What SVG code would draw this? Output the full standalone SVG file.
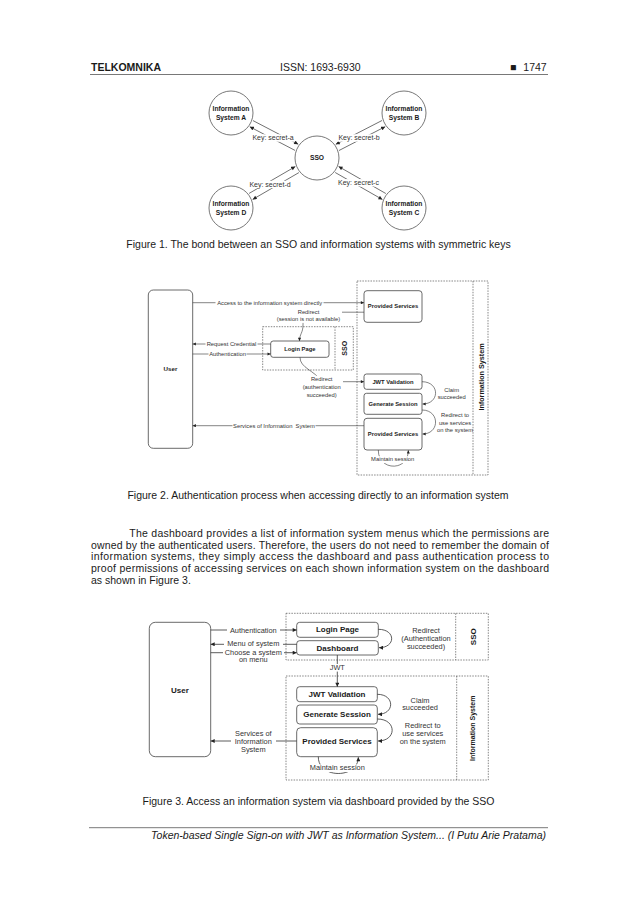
<svg xmlns="http://www.w3.org/2000/svg" width="638" height="902" viewBox="0 0 638 902">
<style>
text{font-family:"Liberation Sans",Arial,sans-serif;fill:#1a1a1a}
.pg{font-size:10.5px}
.b{font-weight:bold}
.f1{font-size:6.7px;font-weight:bold;text-anchor:middle}
.k1{font-size:7px;text-anchor:middle;fill:#333}
.f2{font-size:5.8px;font-weight:bold;text-anchor:middle}
.l2{font-size:5.8px;text-anchor:middle;fill:#333}
.f3{font-size:8px;font-weight:bold;text-anchor:middle}
.l3{font-size:7.4px;text-anchor:middle;fill:#333}
.c{fill:#fff;stroke:#555;stroke-width:0.8}
.bx{fill:#fff;stroke:#444;stroke-width:0.8}
.dash{fill:none;stroke:#555;stroke-width:0.7;stroke-dasharray:1.5 1.2}
.e1{stroke:#333;stroke-width:0.7;fill:none}
.e2{stroke:#333;stroke-width:0.6;fill:none}
.e3{stroke:#333;stroke-width:0.8;fill:none}
.bg{fill:#fff;stroke:none}
</style>
<defs>
<marker id="a1" viewBox="0 0 10 10" refX="10" refY="5" markerUnits="userSpaceOnUse" markerWidth="5" markerHeight="4" orient="auto-start-reverse"><path d="M0,0 L10,5 L0,10 z" fill="#222"/></marker>
<marker id="a2" viewBox="0 0 10 10" refX="10" refY="5" markerUnits="userSpaceOnUse" markerWidth="4" markerHeight="3.2" orient="auto-start-reverse"><path d="M0,0 L10,5 L0,10 z" fill="#222"/></marker>
<marker id="a3" viewBox="0 0 10 10" refX="10" refY="5" markerUnits="userSpaceOnUse" markerWidth="5" markerHeight="4" orient="auto-start-reverse"><path d="M0,0 L10,5 L0,10 z" fill="#222"/></marker>
</defs>
<rect width="638" height="902" fill="#fff"/>

<g id="page-header">
<text class="pg b" x="91" y="71">TELKOMNIKA</text>
<text class="pg" x="280" y="71">ISSN: 1693-6930</text>
<text x="510" y="71" style="font-size:10.5px">■</text>
<text class="pg" x="523.3" y="71">1747</text>
<line x1="90" y1="74.5" x2="548" y2="74.5" stroke="#555" stroke-width="0.8"/>
</g>

<!-- Figure 1 -->
<g id="fig1-connectors">
<line class="e1" x1="249.8" y1="126.8" x2="295" y2="150.4" marker-start="url(#a1)"/>
<line class="e1" x1="253" y1="120.6" x2="298.2" y2="144.2" marker-end="url(#a1)"/>
<line class="e1" x1="385.2" y1="126.7" x2="339" y2="150.5" marker-start="url(#a1)"/>
<line class="e1" x1="382" y1="120.5" x2="335.8" y2="144.3" marker-end="url(#a1)"/>
<line class="e1" x1="252.7" y1="199.4" x2="298.9" y2="172.6" marker-start="url(#a1)"/>
<line class="e1" x1="249.1" y1="193.4" x2="295.3" y2="166.6" marker-end="url(#a1)"/>
<line class="e1" x1="382.4" y1="199.5" x2="335.2" y2="172.5" marker-start="url(#a1)"/>
<line class="e1" x1="385.8" y1="193.5" x2="338.6" y2="166.5" marker-end="url(#a1)"/>
<rect class="bg" x="251.5" y="134.3" width="43" height="7.4"/>
<text class="k1" x="273" y="140">Key: secret-a</text>
<rect class="bg" x="337" y="134.3" width="44" height="7.4"/>
<text class="k1" x="359" y="140">Key: secret-b</text>
<rect class="bg" x="248" y="180.8" width="44" height="7.4"/>
<text class="k1" x="270" y="186.5">Key: secret-d</text>
<rect class="bg" x="336.5" y="179.1" width="44" height="7.4"/>
<text class="k1" x="358.5" y="184.8">Key: secret-c</text>
</g>
<g id="fig1-is-a"><circle class="c" cx="231" cy="113" r="22"/><text class="f1" x="231" y="111.3">Information</text><text class="f1" x="231" y="119.5">System A</text></g>
<g id="fig1-is-b"><circle class="c" cx="404" cy="113" r="22"/><text class="f1" x="404" y="111.3">Information</text><text class="f1" x="404" y="119.5">System B</text></g>
<g id="fig1-sso"><circle class="c" cx="317" cy="158" r="22"/><text class="f1" x="317" y="160.4">SSO</text></g>
<g id="fig1-is-d"><circle class="c" cx="231" cy="208" r="22"/><text class="f1" x="231" y="206.3">Information</text><text class="f1" x="231" y="214.5">System D</text></g>
<g id="fig1-is-c"><circle class="c" cx="404" cy="208" r="22"/><text class="f1" x="404" y="206.3">Information</text><text class="f1" x="404" y="214.5">System C</text></g>
<text class="pg" x="318.5" y="247.5" text-anchor="middle">Figure 1. The bond between an SSO and information systems with symmetric keys</text>

<!-- Figure 2 -->
<g id="fig2-is-container"><rect class="dash" x="357" y="281" width="131" height="194"/><line class="dash" x1="473" y1="281" x2="473" y2="475"/><text class="b" transform="translate(483.5,377) rotate(-90)" text-anchor="middle" style="font-size:7.2px">Information System</text></g>
<g id="fig2-sso-container"><rect class="dash" x="262.7" y="326.7" width="90.6" height="43.3"/><line class="dash" x1="335" y1="326.7" x2="335" y2="370"/><text class="b" transform="translate(346.5,348.3) rotate(-90)" text-anchor="middle" style="font-size:7px">SSO</text></g>
<g id="fig2-user"><rect class="bx" x="148.3" y="290" width="44.4" height="158.3" rx="5"/><text class="f2" x="170.5" y="371.2" style="font-size:6.2px">User</text></g>
<g id="fig2-provided-top"><rect class="bx" x="364" y="290.7" width="58" height="31.6" rx="3"/><text class="f2" x="393" y="308.1">Provided Services</text></g>
<g id="fig2-login"><rect class="bx" x="270.7" y="341" width="58.3" height="16.3" rx="2.5"/><text class="f2" x="299.8" y="351.2">Login Page</text></g>
<g id="fig2-jwt"><rect class="bx" x="364" y="374" width="58" height="15.3" rx="2.5"/><text class="f2" x="393" y="383.8">JWT Validation</text></g>
<g id="fig2-gen"><rect class="bx" x="364" y="393.3" width="58" height="21" rx="2.5"/><text class="f2" x="393" y="406">Generate Session</text></g>
<g id="fig2-provided-bottom"><rect class="bx" x="364" y="418.3" width="58" height="31.7" rx="3"/><text class="f2" x="393" y="436.2">Provided Services</text></g>
<g id="fig2-connectors">
<line class="e2" x1="192.7" y1="302.7" x2="364" y2="302.7" marker-end="url(#a2)"/>
<rect class="bg" x="215.5" y="299.4" width="108" height="6.6"/>
<text class="l2" x="269.7" y="304.8">Access to the information system directly</text>
<path class="e2" d="M364,312.2 L318,312.2 C305,312.2 303,318 303,325 C303,333 299.5,334 299.5,341" marker-end="url(#a2)"/>
<rect class="bg" x="276" y="308.3" width="66" height="14.6"/>
<text class="l2" x="308.5" y="313.8">Redirect</text>
<text class="l2" x="308.5" y="321.3">(session is not available)</text>
<line class="e2" x1="270.7" y1="344" x2="192.7" y2="344" marker-end="url(#a2)"/>
<rect class="bg" x="205.5" y="341" width="52" height="6"/>
<text class="l2" x="231.5" y="346.1">Request Credential</text>
<line class="e2" x1="192.7" y1="354" x2="270.7" y2="354" marker-end="url(#a2)"/>
<rect class="bg" x="208.5" y="351" width="38" height="6"/>
<text class="l2" x="227.5" y="356.1">Authentication</text>
<path class="e2" d="M300,357.3 C300,368 314,370 322,381.7 L364,381.7" marker-end="url(#a2)"/>
<rect class="bg" x="301" y="375.8" width="42" height="23"/>
<text class="l2" x="321.7" y="381.4">Redirect</text>
<text class="l2" x="321.7" y="389.3">(authentication</text>
<text class="l2" x="321.7" y="397.1">succeeded)</text>
<path class="e2" d="M422,381.7 C440,381.7 440,404 422.5,404" marker-end="url(#a2)"/>
<text class="l2" x="451.7" y="392.1">Claim</text>
<text class="l2" x="451.7" y="399.4">succeeded</text>
<path class="e2" d="M422,410 C440,410 440,434 422.5,434" marker-end="url(#a2)"/>
<text class="l2" x="455" y="417.1">Redirect to</text>
<text class="l2" x="455" y="424.8">use services</text>
<text class="l2" x="455" y="432.3">on the system</text>
<path class="e2" d="M378.3,450 C378,471 408.3,472 408.3,450.3" marker-end="url(#a2)"/>
<rect class="bg" x="370" y="456.2" width="45.5" height="6.8"/>
<text class="l2" x="392.7" y="461.4">Maintain session</text>
<line class="e2" x1="364" y1="425.7" x2="192.7" y2="425.7" marker-end="url(#a2)"/>
<rect class="bg" x="232.5" y="422.6" width="83" height="6.2"/>
<text class="l2" x="274" y="427.8" xml:space="preserve">Services of Information  System</text>
</g>
<text class="pg" x="318" y="498.5" text-anchor="middle">Figure 2. Authentication process when accessing directly to an information system</text>

<g id="paragraph">
<text class="pg" x="129.3" y="537" textLength="419.7" lengthAdjust="spacing">The dashboard provides a list of information system menus which the permissions are</text>
<text class="pg" x="91" y="548.7" textLength="458" lengthAdjust="spacing">owned by the authenticated users. Therefore, the users do not need to remember the domain of</text>
<text class="pg" x="91" y="560.4" textLength="458" lengthAdjust="spacing">information systems, they simply access the dashboard and pass authentication process to</text>
<text class="pg" x="91" y="572" textLength="458" lengthAdjust="spacing">proof permissions of accessing services on each shown information system on the dashboard</text>
<text class="pg" x="91" y="583.7">as shown in Figure 3.</text>
</g>

<!-- Figure 3 -->
<g id="fig3-sso-container"><rect class="dash" x="286" y="613.3" width="202.3" height="46.7"/><line class="dash" x1="455.7" y1="613.3" x2="455.7" y2="660"/><text class="b" transform="translate(475.5,636.7) rotate(-90)" text-anchor="middle" style="font-size:8px">SSO</text></g>
<g id="fig3-is-container"><rect class="dash" x="286" y="676" width="202.3" height="104"/><line class="dash" x1="456.7" y1="676" x2="456.7" y2="780"/><text class="b" transform="translate(475,728.3) rotate(-90)" text-anchor="middle" style="font-size:7px">Information System</text></g>
<g id="fig3-user"><rect class="bx" x="149.3" y="622.3" width="61.4" height="134.4" rx="6"/><text class="f3" x="180" y="692.9">User</text></g>
<g id="fig3-login"><rect class="bx" x="296.7" y="622.3" width="81.6" height="15" rx="3"/><text class="f3" x="337.5" y="632.2">Login Page</text></g>
<g id="fig3-dashboard"><rect class="bx" x="296.7" y="640.7" width="81.6" height="14.3" rx="3"/><text class="f3" x="337.5" y="650.6">Dashboard</text></g>
<g id="fig3-jwt"><rect class="bx" x="296.7" y="686.7" width="80.6" height="15" rx="3"/><text class="f3" x="337" y="696.9">JWT Validation</text></g>
<g id="fig3-gen"><rect class="bx" x="296.7" y="705" width="80.6" height="19" rx="3"/><text class="f3" x="337" y="717.2">Generate Session</text></g>
<g id="fig3-provided"><rect class="bx" x="296.7" y="727.7" width="80.6" height="29" rx="4"/><text class="f3" x="337" y="743.9">Provided Services</text></g>
<g id="fig3-connectors">
<line class="e3" x1="210.7" y1="630" x2="296.7" y2="630" marker-end="url(#a3)"/>
<rect class="bg" x="227" y="626.4" width="53" height="7.4"/>
<text class="l3" x="253.3" y="632.6">Authentication</text>
<line class="e3" x1="296.7" y1="644.3" x2="210.7" y2="644.3" marker-end="url(#a3)"/>
<rect class="bg" x="224" y="640.6" width="59" height="7.4"/>
<text class="l3" x="253.3" y="646.3">Menu of system</text>
<line class="e3" x1="210.7" y1="652.7" x2="296.7" y2="652.7" marker-end="url(#a3)"/>
<rect class="bg" x="223" y="648.8" width="61" height="15"/>
<text class="l3" x="253.3" y="654.7">Choose a system</text>
<text class="l3" x="253.3" y="662.2">on menu</text>
<path class="e3" d="M378.3,629.3 C396,629.3 396,647.7 379,647.7" marker-end="url(#a3)"/>
<text class="l3" x="426" y="633.3">Redirect</text>
<text class="l3" x="426" y="640.9">(Authentication</text>
<text class="l3" x="426" y="648.5">succeeded)</text>
<line class="e3" x1="337.3" y1="655" x2="337.3" y2="686.7" marker-end="url(#a3)"/>
<rect class="bg" x="329" y="664" width="16.6" height="7.6"/>
<text class="l3" x="337.3" y="670.4">JWT</text>
<path class="e3" d="M377.3,694.3 C395,694.3 395,714.3 378,714.3" marker-end="url(#a3)"/>
<text class="l3" x="420" y="702.5">Claim</text>
<text class="l3" x="420" y="710">succeeded</text>
<path class="e3" d="M377.3,719 C397,719 397,741 378,741" marker-end="url(#a3)"/>
<text class="l3" x="422.7" y="728.3">Redirect to</text>
<text class="l3" x="422.7" y="735.9">use services</text>
<text class="l3" x="422.7" y="743.5">on the system</text>
<path class="e3" d="M318.3,756.7 C318,779 358.3,779 358.3,757.2" marker-end="url(#a3)"/>
<rect class="bg" x="307.5" y="764.4" width="59.5" height="7.6"/>
<text class="l3" x="337.3" y="770.4">Maintain session</text>
<line class="e3" x1="296.7" y1="741" x2="210.7" y2="741" marker-end="url(#a3)"/>
<rect class="bg" x="231" y="730.4" width="45" height="23"/>
<text class="l3" x="253.3" y="736.3">Services of</text>
<text class="l3" x="253.3" y="743.9">Information</text>
<text class="l3" x="253.3" y="751.5">System</text>
</g>
<text class="pg" x="318.5" y="805.3" text-anchor="middle">Figure 3. Access an information system via dashboard provided by the SSO</text>

<g id="page-footer">
<line x1="89" y1="827.7" x2="548" y2="827.7" stroke="#555" stroke-width="0.8"/>
<text class="pg" x="546" y="838.7" text-anchor="end" font-style="italic">Token-based Single Sign-on with JWT as Information System... (I Putu Arie Pratama)</text>
</g>
</svg>
